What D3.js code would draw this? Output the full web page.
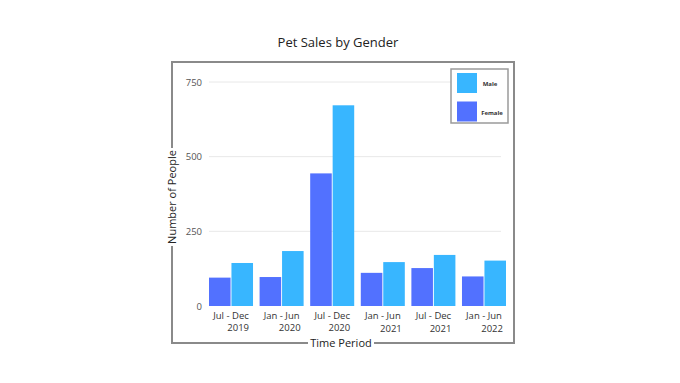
<!DOCTYPE html>
<html>
<head>
<meta charset="utf-8">
<script src="https://cdn.jsdelivr.net/npm/d3@7"></script>
<style>
  body { margin: 0; background: #fff; }
  text { font-family: "Open Sans", sans-serif; }
</style>
</head>
<body>
<script>
// data
var periods = ["Jul - Dec", "Jan - Jun", "Jul - Dec", "Jan - Jun", "Jul - Dec", "Jan - Jun"];
var years = ["2019", "2020", "2020", "2021", "2021", "2022"];
var female = [95, 97, 444, 111, 127, 99];
var male = [144, 184, 672, 147, 171, 152];
var seriesNames = ["Female", "Male"];
var yTicks = [0, 250, 500, 750];

var width = 680, height = 383;
var colors = {Female: "#5271FF", Male: "#38B6FF"};

var svg = d3.select("body").append("svg").attr("width", width).attr("height", height);

svg.append("text")
  .attr("x", 338).attr("y", 47)
  .attr("text-anchor", "middle")
  .attr("font-size", 13)
  .attr("fill", "#222")
  .text("Pet Sales by Gender");

// outer frame
svg.append("rect")
  .attr("x", 172).attr("y", 62)
  .attr("width", 342).attr("height", 281)
  .attr("fill", "none")
  .attr("stroke", "#8a8a8a")
  .attr("stroke-width", 2);

var x0 = d3.scaleBand().domain(d3.range(periods.length)).range([209, 506]).paddingInner(0.13).paddingOuter(0);
var x1 = d3.scaleBand().domain(seriesNames).range([0, x0.bandwidth()]).paddingInner(0.04);
var y = d3.scaleLinear().domain([0, 750]).range([306, 82]);

// grid lines
svg.append("g").selectAll("line").data(yTicks.slice(1)).join("line")
  .attr("x1", 209).attr("x2", 501)
  .attr("y1", function(d){ return y(d); }).attr("y2", function(d){ return y(d); })
  .attr("stroke", "#e8e8e8").attr("stroke-width", 1);

var yAxis = d3.axisLeft(y).tickValues(yTicks).tickSize(0).tickPadding(7);
var gy = svg.append("g").attr("transform", "translate(209,0)").call(yAxis);
gy.select(".domain").remove();
gy.selectAll("text").attr("font-size", 9.5).attr("fill", "#555").attr("font-family", "Open Sans, sans-serif");

// bars
var rows = periods.map(function(p, i){ return {i: i, Female: female[i], Male: male[i]}; });
var groups = svg.append("g").selectAll("g").data(rows).join("g")
  .attr("transform", function(d){ return "translate(" + x0(d.i) + ",0)"; });
groups.selectAll("rect")
  .data(function(d){ return seriesNames.map(function(k){ return {key: k, value: d[k]}; }); })
  .join("rect")
  .attr("x", function(d){ return x1(d.key); })
  .attr("width", x1.bandwidth())
  .attr("y", function(d){ return y(d.value); })
  .attr("height", function(d){ return y(0) - y(d.value); })
  .attr("fill", function(d){ return colors[d.key]; });

// x labels, two lines in one text
var xl = svg.append("g").selectAll("text").data(periods).join("text")
  .attr("transform", function(d, i){ return "translate(" + (x0(i) + x0.bandwidth() / 2) + ",0)"; })
  .attr("font-size", 9.5).attr("fill", "#333");
xl.append("tspan")
  .attr("x", 0).attr("y", 318.5).attr("text-anchor", "middle")
  .text(function(d){ return d; });
xl.append("tspan")
  .attr("x", function(d, i){ return i % 2 === 0 ? 18 : 19; })
  .attr("y", function(d, i){ return i >= 3 ? 332 : 331; })
  .attr("text-anchor", "end")
  .text(function(d, i){ return years[i]; });

// axis titles, breaking the frame
svg.append("rect").attr("x", 308).attr("y", 336).attr("width", 66).attr("height", 14).attr("fill", "#fff");
svg.append("text")
  .attr("x", 341).attr("y", 347)
  .attr("text-anchor", "middle")
  .attr("font-size", 11).attr("fill", "#222")
  .text("Time Period");

svg.append("rect").attr("x", 165).attr("y", 148).attr("width", 14).attr("height", 98).attr("fill", "#fff");
svg.append("text")
  .attr("transform", "translate(176,197) rotate(-90)")
  .attr("text-anchor", "middle")
  .attr("font-size", 11).attr("fill", "#222")
  .text("Number of People");

// legend
var legend = svg.append("g");
legend.append("rect")
  .attr("x", 451).attr("y", 69).attr("width", 57).attr("height", 54)
  .attr("fill", "#fff").attr("stroke", "#9a9a9a").attr("stroke-width", 1.5);
var legendItems = ["Male", "Female"];
var li = legend.selectAll("g.item").data(legendItems).join("g")
  .attr("class", "item")
  .attr("transform", function(d, i){ return "translate(457," + (73 + i * 28.5) + ")"; });
li.append("rect").attr("width", 20).attr("height", 20)
  .attr("fill", function(d){ return colors[d]; });
li.append("text")
  .attr("x", function(d){ return d === "Male" ? 33 : 35; })
  .attr("y", 13)
  .attr("text-anchor", "middle")
  .attr("font-size", 6).attr("font-weight", "bold").attr("fill", "#333")
  .text(function(d){ return d; });
</script>
</body>
</html>
